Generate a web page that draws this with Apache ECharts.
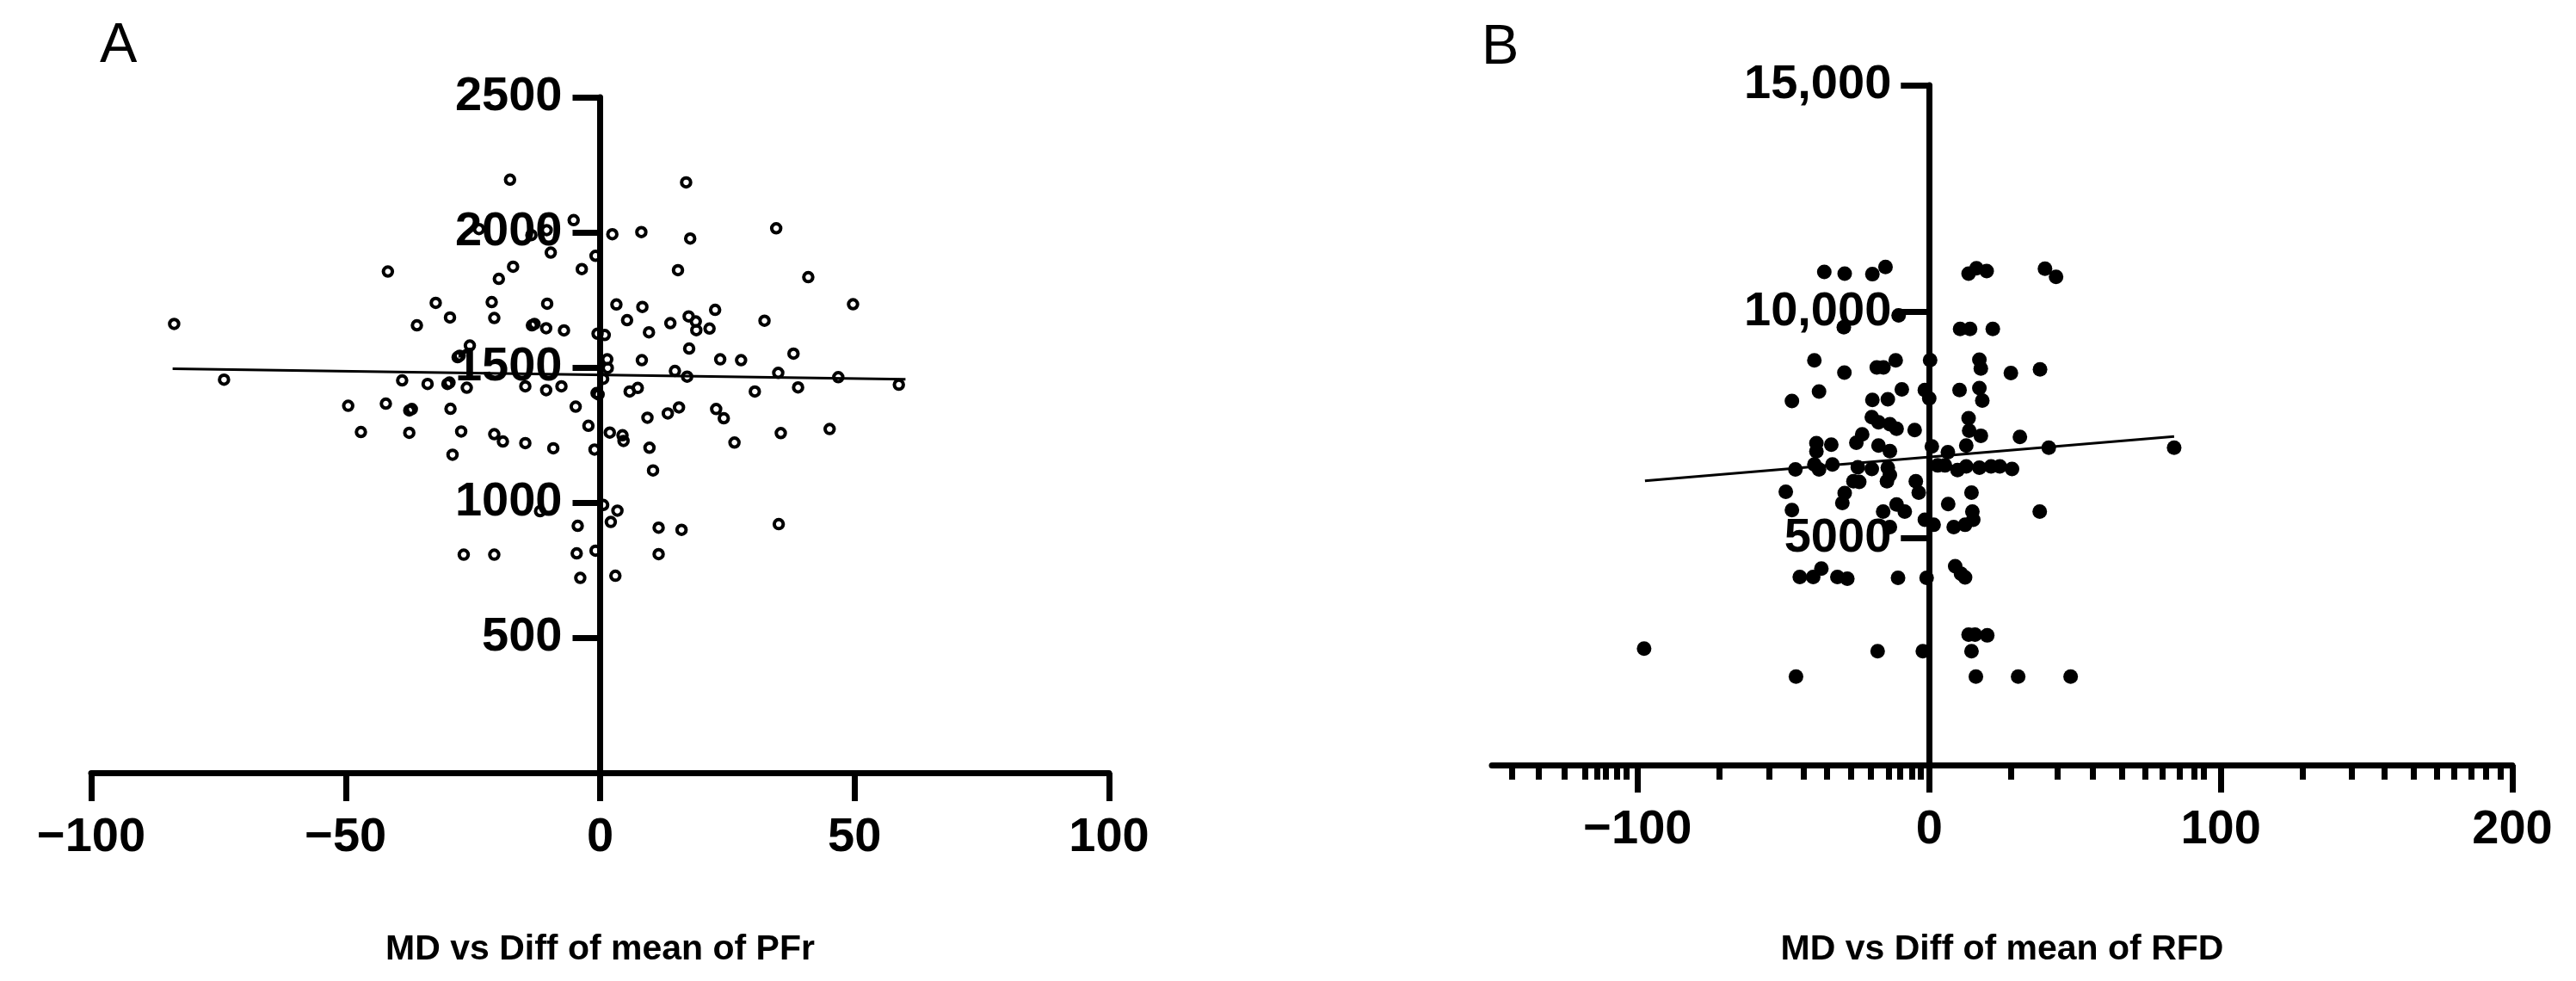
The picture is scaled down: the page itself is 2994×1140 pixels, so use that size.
<!DOCTYPE html>
<html>
<head>
<meta charset="utf-8">
<script src="https://cdn.jsdelivr.net/npm/echarts@6/dist/echarts.min.js"></script>
<style>
  html, body { margin: 0; padding: 0; background: #fff; }
  #chart-container { width: 2994px; height: 1140px; }
</style>
</head>
<body>
<div id="chart-container"></div>
<script>
// panel A: MD vs Diff of mean of PFr
const pfrPoints = [
    [-17.7, 2195], [-5.2, 2045], [-10.5, 2008], [-23.8, 2012], [-13.5, 1990], [-9.7, 1925],
    [-3.6, 1864], [-17.1, 1873], [-19.9, 1828], [-41.7, 1855], [-32.3, 1739], [-21.3, 1742],
    [-10.4, 1736], [-29.5, 1685], [-20.8, 1683], [-36, 1656], [-13.4, 1656], [-12.9, 1661],
    [-10.6, 1645], [-7.1, 1637], [-83.7, 1661], [-25.6, 1581], [-28, 1538], [-27.6, 1543],
    [-73.9, 1455], [-38.9, 1452], [-33.9, 1439], [-30, 1439], [-29.6, 1444], [-26.2, 1425],
    [-14.7, 1430], [-10.6, 1416], [-7.6, 1430], [-49.5, 1358], [-42.1, 1366], [-37.5, 1341],
    [-37, 1346], [-29.4, 1347], [-4.8, 1355], [-47, 1261], [-37.5, 1258], [-27.3, 1263],
    [-20.8, 1253], [-19.1, 1226], [-14.7, 1220], [-9.2, 1201], [-2.3, 1284], [-29, 1177],
    [-11.8, 968], [-4.4, 914], [-26.8, 807], [-20.8, 807], [-4.6, 812], [-3.9, 721],
    [16.9, 2185], [2.4, 1993], [8.1, 2001], [17.7, 1977], [34.6, 2015], [-0.9, 1913],
    [15.3, 1860], [40.9, 1834], [49.7, 1734], [3.2, 1733], [8.3, 1724], [22.6, 1713],
    [5.3, 1675], [13.8, 1664], [17.4, 1689], [18.8, 1670], [18.9, 1638], [21.5, 1644],
    [32.3, 1673], [9.6, 1630], [0.9, 1620], [-0.5, 1625], [17.5, 1570], [1.4, 1530],
    [1.5, 1498], [8.2, 1527], [23.6, 1530], [27.7, 1527], [38, 1551], [14.7, 1487],
    [17.1, 1466], [35, 1480], [46.8, 1464], [58.7, 1436], [0.6, 1458], [-0.7, 1405],
    [-0.3, 1400], [5.8, 1411], [7.4, 1424], [30.4, 1411], [38.9, 1426], [9.3, 1314],
    [13.3, 1330], [15.5, 1352], [22.8, 1346], [24.3, 1312], [1.9, 1259], [4.4, 1249],
    [4.6, 1228], [9.7, 1203], [10.4, 1119], [26.4, 1222], [35.5, 1257], [45.1, 1272],
    [-1.1, 1196], [0.6, 991], [3.4, 970], [2.1, 928], [11.5, 907], [16, 899],
    [35.1, 920], [-0.9, 822], [11.5, 809], [3, 729]
]
const pfrFit = [[-84, 1495], [60, 1456]]
const pfrXTicks = [-100, -50, 0, 50, 100]
const pfrYTicks = [500, 1000, 1500, 2000, 2500]

// panel B: MD vs Diff of mean of RFD
const rfdPoints = [
    [-36, 10880], [-29, 10840], [-19.5, 10830], [-15, 10990], [13.5, 10840], [16.2, 10960],
    [19.7, 10900], [39.7, 10950], [43.5, 10770],
    [-10.5, 9920], [-29.3, 9660], [10.6, 9620], [14, 9620], [21.8, 9620],
    [-39.4, 8930], [-11.5, 8930], [0.3, 8935], [17.2, 8945],
    [-29.1, 8660], [-18, 8770], [-15.7, 8770], [17.7, 8750], [28, 8650], [38, 8730],
    [-37.8, 8240], [-47.1, 8030], [-9.4, 8290], [-19.5, 8055], [-14.2, 8070], [-1.5, 8275],
    [0, 8090], [10.4, 8275], [17.2, 8315], [18.2, 8040],
    [-19.7, 7675], [-17.4, 7560], [-13.5, 7520], [-11.2, 7420], [-5, 7390], [-23, 7295],
    [-25, 7110], [13.5, 7650], [13.7, 7376], [17.7, 7265], [31.1, 7240],
    [-38.7, 7100], [-38.7, 6920], [-33.6, 7070], [-17.4, 7050], [-13.5, 6925], [12.7, 7050],
    [41, 7000], [84, 7000], [0.9, 7030], [6.4, 6900],
    [-45.9, 6520], [-39.4, 6630], [-37.8, 6520], [-33.2, 6630], [-24.5, 6570], [-19.7, 6530],
    [-14.2, 6560], [-13.5, 6400], [-14.5, 6260], [-26, 6260], [-4.6, 6260], [-3.6, 6010],
    [2.9, 6610], [5.4, 6610], [9.7, 6510], [12.7, 6590], [17.2, 6560], [21.2, 6590],
    [24.2, 6590], [28.4, 6530],
    [-49.2, 6030], [-24, 6245], [-29, 6000], [-29.8, 5780], [14.5, 6010], [6.5, 5760],
    [-47.1, 5625], [-15.8, 5590], [-11.2, 5750], [-8.4, 5590], [-13.5, 5250], [-1.5, 5410],
    [1.5, 5300], [8.4, 5250], [12.3, 5300], [14.8, 5590], [15.1, 5410], [37.9, 5590],
    [-44.4, 4150], [-39.8, 4150], [-37, 4335], [-31.5, 4150], [-28.1, 4110], [-10.7, 4130],
    [-0.9, 4130], [8.9, 4385], [10.9, 4220], [12.3, 4140],
    [-97.8, 2570], [-17.7, 2510], [-2.2, 2510], [13.5, 2875], [15.7, 2875], [19.9, 2860],
    [14.5, 2510],
    [-45.7, 1950], [16, 1950], [30.5, 1950], [48.5, 1950]
]
const rfdFit = [[-97.5, 6270], [84, 7250]]
const rfdXMajor = [-100, 0, 100, 200]
const rfdXMinor = [
    -143, -134, -125, -118, -114, -111, -107, -104,
    -72, -55, -43, -35, -27, -20, -14, -10, -6, -3,
    28, 44, 56, 66, 74, 80, 86, 91, 94,
    128, 145, 156, 166, 174, 180, 186, 191, 196
]
const rfdYTicks = [5000, 10000, 15000]

const FONT = '"Liberation Sans", Arial, sans-serif'
const minus = (v) => String(v).replace('-', '\u2212')

const tickLabel = {
    color: '#000',
    fontFamily: FONT,
    fontWeight: 'bold',
    fontSize: 56
}

// grid boxes of the two panels
const gridA = { left: 106, top: 113, width: 1183, height: 785 }
const gridB = { left: 1734, top: 99, width: 1186, height: 790 }

// the y axes cross x at 0: shift them into the grid by that distance
const zeroOffset = (g, min, max) => -g.width * (0 - min) / (max - min)

const createChart = (id) => {
    var dom = document.getElementById(id);
    var myChart = echarts.init(dom, null, { renderer: 'canvas' });
    var line = { lineStyle: { color: '#000', width: 7 } }
    var option = {
        animation: false,
        backgroundColor: '#fff',
        grid: [
            Object.assign({ outerBoundsMode: 'none' }, gridA),
            Object.assign({ outerBoundsMode: 'none' }, gridB)
        ],
        xAxis: [
            {
                type: 'value', gridIndex: 0, min: -100, max: 100, interval: 50,
                splitLine: { show: false },
                axisLine: line,
                axisTick: { show: true, length: 33, lineStyle: { color: '#000', width: 7 }, customValues: pfrXTicks },
                axisLabel: Object.assign({ margin: 48, formatter: minus, customValues: pfrXTicks }, tickLabel),
                name: 'MD vs Diff of mean of PFr',
                nameLocation: 'middle',
                nameGap: 206,
                nameTextStyle: { color: '#000', fontFamily: FONT, fontWeight: 'bold', fontSize: 41, verticalAlign: 'middle' }
            },
            {
                type: 'value', gridIndex: 1, min: -150, max: 200, interval: 50,
                splitLine: { show: false },
                axisLine: line,
                axisTick: { show: true, length: 32, lineStyle: { color: '#000', width: 7 }, customValues: rfdXMajor },
                axisLabel: Object.assign({
                    margin: 48,
                    customValues: rfdXMajor,
                    formatter: (v) => (v % 100 === 0 ? minus(v) : '')
                }, tickLabel),
                name: 'MD vs Diff of mean of RFD',
                nameLocation: 'middle',
                nameGap: 215,
                nameTextStyle: { color: '#000', fontFamily: FONT, fontWeight: 'bold', fontSize: 41, verticalAlign: 'middle' }
            },
            {
                // short ticks of panel B
                type: 'value', gridIndex: 1, min: -150, max: 200, position: 'bottom',
                splitLine: { show: false },
                axisLine: { show: false, onZero: false },
                axisTick: { show: true, length: 17, lineStyle: { color: '#000', width: 7 }, customValues: rfdXMinor },
                axisLabel: { show: false }
            }
        ],
        yAxis: [
            {
                type: 'value', gridIndex: 0, min: 0, max: 2500, interval: 500,
                position: 'left', offset: zeroOffset(gridA, -100, 100),
                splitLine: { show: false },
                axisLine: { show: true, onZero: false, lineStyle: { color: '#000', width: 7 } },
                axisTick: { show: true, length: 32, lineStyle: { color: '#000', width: 7 }, customValues: pfrYTicks },
                axisLabel: Object.assign({ margin: 44, customValues: pfrYTicks, formatter: (v) => (v === 0 ? '' : String(v)) }, tickLabel)
            },
            {
                type: 'value', gridIndex: 1, min: 0, max: 15000, interval: 5000,
                position: 'left', offset: zeroOffset(gridB, -150, 200),
                splitLine: { show: false },
                axisLine: { show: true, onZero: false, lineStyle: { color: '#000', width: 7 } },
                axisTick: { show: true, length: 33, lineStyle: { color: '#000', width: 7 }, customValues: rfdYTicks },
                axisLabel: Object.assign({
                    margin: 44,
                    customValues: rfdYTicks,
                    formatter: (v) => (v === 0 ? '' : v >= 10000 ? v.toLocaleString('en-US') : String(v))
                }, tickLabel)
            }
        ],
        graphic: [
            { type: 'text', left: 116, top: 22, style: { text: 'A', fill: '#000', font: '400 65px ' + FONT } },
            { type: 'text', left: 1722, top: 24, style: { text: 'B', fill: '#000', font: '400 65px ' + FONT } }
        ],
        series: [
            {
                type: 'scatter', xAxisIndex: 0, yAxisIndex: 0,
                symbol: 'circle', symbolSize: 10.5,
                itemStyle: { color: 'rgba(0,0,0,0)', borderColor: '#000', borderWidth: 4, opacity: 1 },
                data: pfrPoints, z: 3
            },
            {
                type: 'line', xAxisIndex: 0, yAxisIndex: 0,
                showSymbol: false, symbol: 'none',
                lineStyle: { color: '#000', width: 3 },
                data: pfrFit, z: 4
            },
            {
                type: 'scatter', xAxisIndex: 1, yAxisIndex: 1,
                symbol: 'circle', symbolSize: 17,
                itemStyle: { color: '#000', opacity: 1 },
                data: rfdPoints, z: 3
            },
            {
                type: 'line', xAxisIndex: 1, yAxisIndex: 1,
                showSymbol: false, symbol: 'none',
                lineStyle: { color: '#000', width: 3 },
                data: rfdFit, z: 4
            }
        ]
    };
    myChart.setOption(option);
}

createChart('chart-container')
</script>
</body>
</html>
